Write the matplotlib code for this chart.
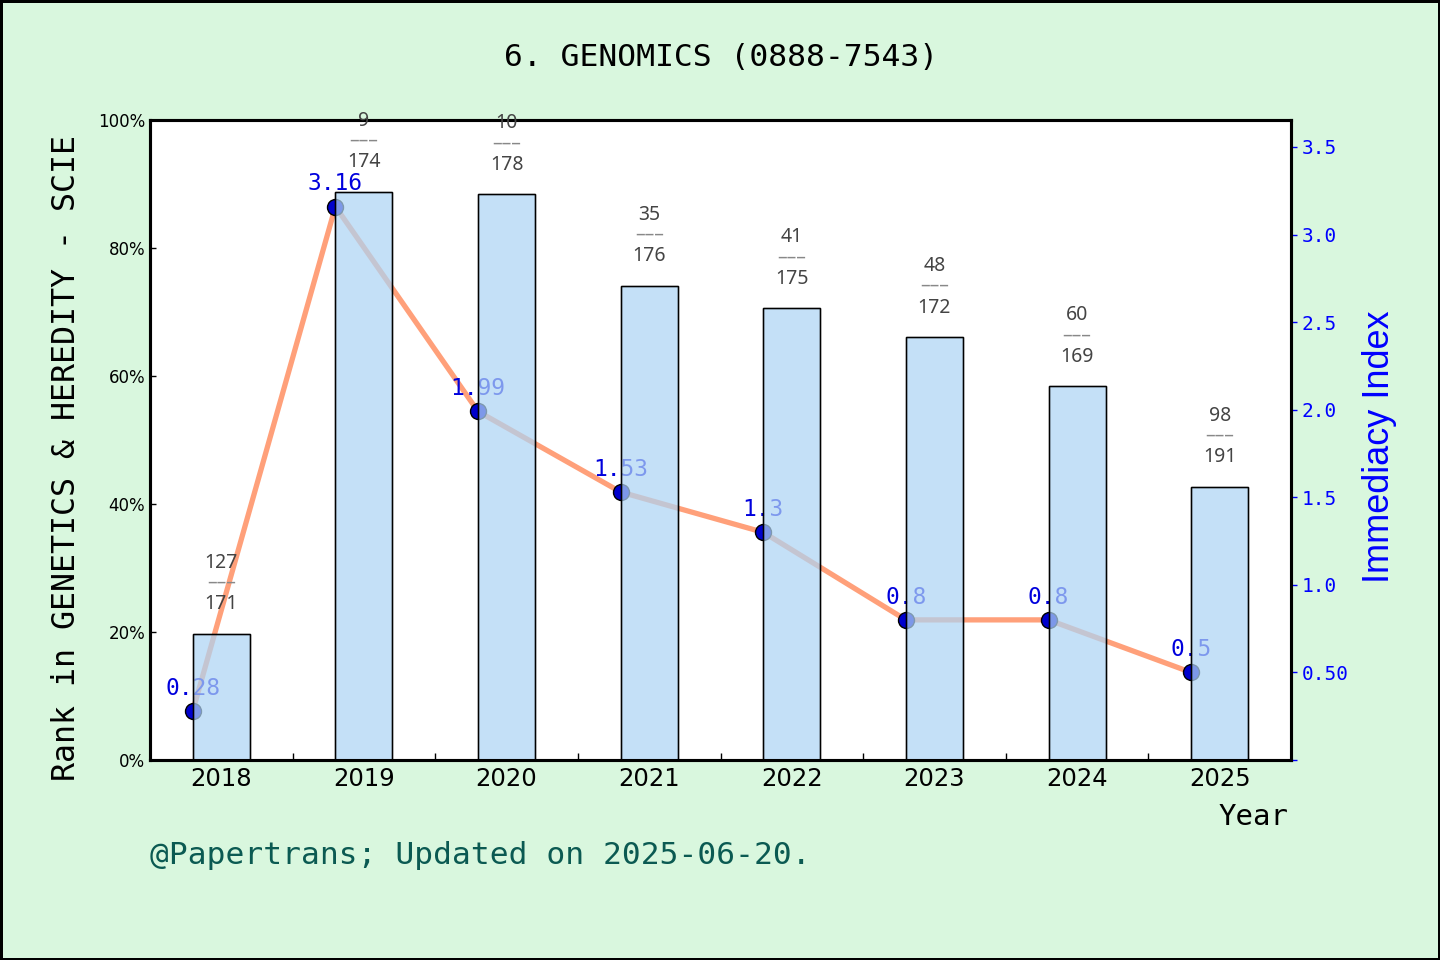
import numpy as np
import matplotlib
matplotlib.use('Agg')
import matplotlib.pyplot as plt
from matplotlib.ticker import FixedLocator

# data
years = ['2018', '2019', '2020', '2021', '2022', '2023', '2024', '2025']
rank = [127, 9, 10, 35, 41, 48, 60, 98]
total = [171, 174, 178, 176, 175, 172, 169, 191]
bar_pct = [19.7, 88.8, 88.4, 74.1, 70.6, 66.1, 58.4, 42.7]
immediacy = [0.28, 3.16, 1.99, 1.53, 1.3, 0.8, 0.8, 0.5]
imm_labels = ['0.28', '3.16', '1.99', '1.53', '1.3', '0.8', '0.8', '0.5']
right_ticks = [0, 0.5, 1.0, 1.5, 2.0, 2.5, 3.0, 3.5]
right_ticklabels = ['', '0.50', '1.0', '1.5', '2.0', '2.5', '3.0', '3.5']

mono = 'DejaVu Sans Mono'
bg = '#d9f7de'

fig = plt.figure(figsize=(14.4, 9.6), dpi=100, facecolor=bg,
                 edgecolor='black', linewidth=2.5)
ax = fig.add_axes([150/1440, 1-760/960, (1291-150)/1440, 640/960])
ax2 = ax.twinx()

# bars on top of the line
ax.set_zorder(2)
ax2.set_zorder(1)
ax.patch.set_visible(False)
ax2.patch.set_facecolor('white')
ax2.patch.set_visible(True)

x = np.arange(len(years))

# line on right axis
ax2.plot(x, immediacy, color='#ffa07a', linewidth=3.8, marker='o',
         markersize=11.5, markerfacecolor='#0000cd', markeredgecolor='black',
         markeredgewidth=1)
for xi, v, lab in zip(x, immediacy, imm_labels):
    ax2.annotate(lab, (xi, v), xytext=(0, 8), textcoords='offset points',
                 ha='center', va='bottom', color='#0000dd', fontsize=16.5,
                 family=mono)
ax2.set_ylim(0, 3.654)
ax2.set_yticks(right_ticks)
ax2.set_yticklabels(right_ticklabels)
ax2.tick_params(axis='y', direction='out', length=4, colors='#0000ff',
                labelsize=14, width=1)
for t in ax2.get_yticklabels():
    t.set_family(mono)
ax2.set_ylabel('Immediacy Index', color='#0000ff', fontsize=26,
               family='Liberation Sans')
ax2.yaxis.set_label_coords(1.062, 0.489)

# bars on left axis
ax.bar(x, bar_pct, width=0.4, align='edge', color='#aed4f4', alpha=0.72,
       edgecolor='black', linewidth=1)
ax.bar(x, bar_pct, width=0.4, align='edge', color='none',
       edgecolor='black', linewidth=1)
for xi, h, r, tot in zip(x, bar_pct, rank, total):
    ax.annotate(str(tot), (xi + 0.2, h), xytext=(0, 14),
                textcoords='offset points', ha='center', va='bottom',
                color='#444444', fontsize=14, family='Noto Sans',
                annotation_clip=False)
    ax.annotate('\u2013\u2013\u2013', (xi + 0.2, h), xytext=(0, 29.5),
                textcoords='offset points', ha='center', va='bottom',
                color='#888888', fontsize=14, family='Noto Sans',
                annotation_clip=False)
    ax.annotate(str(r), (xi + 0.2, h), xytext=(0, 44),
                textcoords='offset points', ha='center', va='bottom',
                color='#444444', fontsize=14, family='Noto Sans',
                annotation_clip=False)

ax.set_xlim(-0.3, 7.7)
ax.set_ylim(0, 100)
ax.set_yticks(range(0, 101, 20))
ax.set_yticklabels(['%d%%' % v for v in range(0, 101, 20)])
ax.tick_params(axis='y', direction='in', length=4, labelsize=12, width=1)
ax.set_xticks(x + 0.2)
ax.set_xticklabels(years)
ax.tick_params(axis='x', which='major', length=0, labelsize=17.5, pad=5)
ax.xaxis.set_minor_locator(FixedLocator(x[:-1] + 0.7))
ax.tick_params(axis='x', which='minor', direction='in', length=5, width=1)
ax.set_ylabel('Rank in GENETICS & HEREDITY - SCIE', fontsize=22.8, family=mono)
ax.yaxis.set_label_coords(-0.060, 0.472)
for a in (ax, ax2):
    for s in a.spines.values():
        s.set_linewidth(2.2)

fig.text(721/1440, 1-57/960, '6. GENOMICS (0888-7543)', ha='center',
         va='center', fontsize=22.6, family=mono)
fig.text(1289/1440, 1-817/960, 'Year', ha='right', va='center', fontsize=21,
         family=mono)
fig.text(150/1440, 1-855/960, '@Papertrans; Updated on 2025-06-20.',
         ha='left', va='center', fontsize=22.5, family=mono, color='#0b5a52')

fig.savefig('out.png', dpi=100, facecolor=bg, edgecolor='black')
